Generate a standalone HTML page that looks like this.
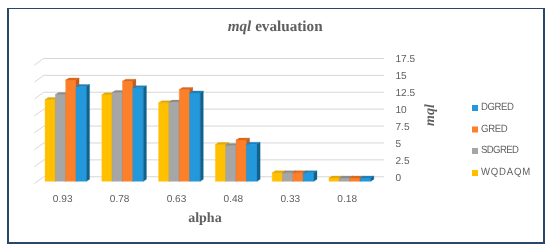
<!DOCTYPE html>
<html><head><meta charset="utf-8"><title>mql evaluation</title>
<style>
html,body{margin:0;padding:0;background:#fff;}
body{width:550px;height:251px;position:relative;overflow:hidden;font-family:"Liberation Sans",sans-serif;}
.frame{position:absolute;left:7px;top:8px;width:534px;height:232.5px;border-style:solid;border-color:#294869;border-width:1.5px 2px 2px 2px;}
.t{text-rendering:geometricPrecision;position:absolute;white-space:nowrap;color:#606060;line-height:1;}
.ax{font-size:10.1px;}
.ser{font-family:"Liberation Serif",serif;font-weight:bold;color:#606060;}
.lg{font-size:9.6px;transform:scale(1,1.09);transform-origin:0 85%;}
.mk{position:absolute;width:6px;height:6px;}
</style></head><body>
<div class="frame"></div>
<svg width="550" height="251" viewBox="0 0 550 251" style="position:absolute;left:0;top:0">
<polyline points="34.4,65.15 43.8,58.45 384,58.45" fill="none" stroke="#D3D3D3" stroke-width="0.9"/>
<polyline points="34.4,82.05 43.8,75.35 384,75.35" fill="none" stroke="#D3D3D3" stroke-width="0.9"/>
<polyline points="34.4,98.95 43.8,92.25 384,92.25" fill="none" stroke="#D3D3D3" stroke-width="0.9"/>
<polyline points="34.4,115.85 43.8,109.15 384,109.15" fill="none" stroke="#D3D3D3" stroke-width="0.9"/>
<polyline points="34.4,132.75 43.8,126.05 384,126.05" fill="none" stroke="#D3D3D3" stroke-width="0.9"/>
<polyline points="34.4,149.65 43.8,142.95 384,142.95" fill="none" stroke="#D3D3D3" stroke-width="0.9"/>
<polyline points="34.4,166.55 43.8,159.85 384,159.85" fill="none" stroke="#D3D3D3" stroke-width="0.9"/>
<polyline points="34.4,183.45 43.8,176.75 384,176.75" fill="none" stroke="#D3D3D3" stroke-width="0.9"/>
<polygon points="45.10,99.50 55.40,99.50 55.40,181.3 45.10,181.3" fill="#FFC000" stroke="#FFC000" stroke-width="0.4"/>
<polygon points="45.10,99.50 48.20,97.50 58.50,97.50 55.40,99.50" fill="#E3A800" stroke="#E3A800" stroke-width="0.3"/>
<polygon points="55.40,99.50 58.50,97.50 58.50,179.30 55.40,181.3" fill="#C89400" stroke="#C89400" stroke-width="0.3"/>
<polygon points="55.40,94.50 65.70,94.50 65.70,181.3 55.40,181.3" fill="#A6A6A6" stroke="#A6A6A6" stroke-width="0.4"/>
<polygon points="55.40,94.50 58.50,92.50 68.80,92.50 65.70,94.50" fill="#8C8C8C" stroke="#8C8C8C" stroke-width="0.3"/>
<polygon points="65.70,94.50 68.80,92.50 68.80,179.30 65.70,181.3" fill="#7A7A7A" stroke="#7A7A7A" stroke-width="0.3"/>
<polygon points="65.70,80.00 76.00,80.00 76.00,181.3 65.70,181.3" fill="#FC7F2A" stroke="#FC7F2A" stroke-width="0.4"/>
<polygon points="65.70,80.00 68.80,78.00 79.10,78.00 76.00,80.00" fill="#DE661B" stroke="#DE661B" stroke-width="0.3"/>
<polygon points="76.00,80.00 79.10,78.00 79.10,179.30 76.00,181.3" fill="#C65A18" stroke="#C65A18" stroke-width="0.3"/>
<polygon points="76.00,86.50 86.50,86.50 86.50,181.3 76.00,181.3" fill="#2398DB" stroke="#2398DB" stroke-width="0.4"/>
<polygon points="76.00,86.50 79.10,84.50 89.60,84.50 86.50,86.50" fill="#1C80BB" stroke="#1C80BB" stroke-width="0.3"/>
<polygon points="86.50,86.50 89.60,84.50 89.60,179.30 86.50,181.3" fill="#0F618F" stroke="#0F618F" stroke-width="0.3"/>
<polygon points="101.87,94.80 112.19,94.80 112.19,181.3 101.87,181.3" fill="#FFC000" stroke="#FFC000" stroke-width="0.4"/>
<polygon points="101.87,94.80 104.97,92.80 115.29,92.80 112.19,94.80" fill="#E3A800" stroke="#E3A800" stroke-width="0.3"/>
<polygon points="112.19,94.80 115.29,92.80 115.29,179.30 112.19,181.3" fill="#C89400" stroke="#C89400" stroke-width="0.3"/>
<polygon points="112.19,92.40 122.49,92.40 122.49,181.3 112.19,181.3" fill="#A6A6A6" stroke="#A6A6A6" stroke-width="0.4"/>
<polygon points="112.19,92.40 115.29,90.40 125.59,90.40 122.49,92.40" fill="#8C8C8C" stroke="#8C8C8C" stroke-width="0.3"/>
<polygon points="122.49,92.40 125.59,90.40 125.59,179.30 122.49,181.3" fill="#7A7A7A" stroke="#7A7A7A" stroke-width="0.3"/>
<polygon points="122.49,81.20 132.81,81.20 132.81,181.3 122.49,181.3" fill="#FC7F2A" stroke="#FC7F2A" stroke-width="0.4"/>
<polygon points="122.49,81.20 125.59,79.20 135.91,79.20 132.81,81.20" fill="#DE661B" stroke="#DE661B" stroke-width="0.3"/>
<polygon points="132.81,81.20 135.91,79.20 135.91,179.30 132.81,181.3" fill="#C65A18" stroke="#C65A18" stroke-width="0.3"/>
<polygon points="132.81,87.80 143.35,87.80 143.35,181.3 132.81,181.3" fill="#2398DB" stroke="#2398DB" stroke-width="0.4"/>
<polygon points="132.81,87.80 135.91,85.80 146.45,85.80 143.35,87.80" fill="#1C80BB" stroke="#1C80BB" stroke-width="0.3"/>
<polygon points="143.35,87.80 146.45,85.80 146.45,179.30 143.35,181.3" fill="#0F618F" stroke="#0F618F" stroke-width="0.3"/>
<polygon points="158.64,102.80 168.98,102.80 168.98,181.3 158.64,181.3" fill="#FFC000" stroke="#FFC000" stroke-width="0.4"/>
<polygon points="158.64,102.80 161.74,100.80 172.08,100.80 168.98,102.80" fill="#E3A800" stroke="#E3A800" stroke-width="0.3"/>
<polygon points="168.98,102.80 172.08,100.80 172.08,179.30 168.98,181.3" fill="#C89400" stroke="#C89400" stroke-width="0.3"/>
<polygon points="168.98,102.10 179.28,102.10 179.28,181.3 168.98,181.3" fill="#A6A6A6" stroke="#A6A6A6" stroke-width="0.4"/>
<polygon points="168.98,102.10 172.08,100.10 182.38,100.10 179.28,102.10" fill="#8C8C8C" stroke="#8C8C8C" stroke-width="0.3"/>
<polygon points="179.28,102.10 182.38,100.10 182.38,179.30 179.28,181.3" fill="#7A7A7A" stroke="#7A7A7A" stroke-width="0.3"/>
<polygon points="179.28,89.50 189.62,89.50 189.62,181.3 179.28,181.3" fill="#FC7F2A" stroke="#FC7F2A" stroke-width="0.4"/>
<polygon points="179.28,89.50 182.38,87.50 192.72,87.50 189.62,89.50" fill="#DE661B" stroke="#DE661B" stroke-width="0.3"/>
<polygon points="189.62,89.50 192.72,87.50 192.72,179.30 189.62,181.3" fill="#C65A18" stroke="#C65A18" stroke-width="0.3"/>
<polygon points="189.62,93.00 200.20,93.00 200.20,181.3 189.62,181.3" fill="#2398DB" stroke="#2398DB" stroke-width="0.4"/>
<polygon points="189.62,93.00 192.72,91.00 203.30,91.00 200.20,93.00" fill="#1C80BB" stroke="#1C80BB" stroke-width="0.3"/>
<polygon points="200.20,93.00 203.30,91.00 203.30,179.30 200.20,181.3" fill="#0F618F" stroke="#0F618F" stroke-width="0.3"/>
<polygon points="215.41,144.50 225.77,144.50 225.77,181.3 215.41,181.3" fill="#FFC000" stroke="#FFC000" stroke-width="0.4"/>
<polygon points="215.41,144.50 218.51,142.50 228.87,142.50 225.77,144.50" fill="#E3A800" stroke="#E3A800" stroke-width="0.3"/>
<polygon points="225.77,144.50 228.87,142.50 228.87,179.30 225.77,181.3" fill="#C89400" stroke="#C89400" stroke-width="0.3"/>
<polygon points="225.77,145.50 236.07,145.50 236.07,181.3 225.77,181.3" fill="#A6A6A6" stroke="#A6A6A6" stroke-width="0.4"/>
<polygon points="225.77,145.50 228.87,143.50 239.17,143.50 236.07,145.50" fill="#8C8C8C" stroke="#8C8C8C" stroke-width="0.3"/>
<polygon points="236.07,145.50 239.17,143.50 239.17,179.30 236.07,181.3" fill="#7A7A7A" stroke="#7A7A7A" stroke-width="0.3"/>
<polygon points="236.07,140.00 246.43,140.00 246.43,181.3 236.07,181.3" fill="#FC7F2A" stroke="#FC7F2A" stroke-width="0.4"/>
<polygon points="236.07,140.00 239.17,138.00 249.53,138.00 246.43,140.00" fill="#DE661B" stroke="#DE661B" stroke-width="0.3"/>
<polygon points="246.43,140.00 249.53,138.00 249.53,179.30 246.43,181.3" fill="#C65A18" stroke="#C65A18" stroke-width="0.3"/>
<polygon points="246.43,144.20 257.05,144.20 257.05,181.3 246.43,181.3" fill="#2398DB" stroke="#2398DB" stroke-width="0.4"/>
<polygon points="246.43,144.20 249.53,142.20 260.15,142.20 257.05,144.20" fill="#1C80BB" stroke="#1C80BB" stroke-width="0.3"/>
<polygon points="257.05,144.20 260.15,142.20 260.15,179.30 257.05,181.3" fill="#0F618F" stroke="#0F618F" stroke-width="0.3"/>
<polygon points="272.18,172.80 282.56,172.80 282.56,181.3 272.18,181.3" fill="#FFC000" stroke="#FFC000" stroke-width="0.4"/>
<polygon points="272.18,172.80 275.28,170.80 285.66,170.80 282.56,172.80" fill="#E3A800" stroke="#E3A800" stroke-width="0.3"/>
<polygon points="282.56,172.80 285.66,170.80 285.66,179.30 282.56,181.3" fill="#C89400" stroke="#C89400" stroke-width="0.3"/>
<polygon points="282.56,172.80 292.86,172.80 292.86,181.3 282.56,181.3" fill="#A6A6A6" stroke="#A6A6A6" stroke-width="0.4"/>
<polygon points="282.56,172.80 285.66,170.80 295.96,170.80 292.86,172.80" fill="#8C8C8C" stroke="#8C8C8C" stroke-width="0.3"/>
<polygon points="292.86,172.80 295.96,170.80 295.96,179.30 292.86,181.3" fill="#7A7A7A" stroke="#7A7A7A" stroke-width="0.3"/>
<polygon points="292.86,172.80 303.24,172.80 303.24,181.3 292.86,181.3" fill="#FC7F2A" stroke="#FC7F2A" stroke-width="0.4"/>
<polygon points="292.86,172.80 295.96,170.80 306.34,170.80 303.24,172.80" fill="#DE661B" stroke="#DE661B" stroke-width="0.3"/>
<polygon points="303.24,172.80 306.34,170.80 306.34,179.30 303.24,181.3" fill="#C65A18" stroke="#C65A18" stroke-width="0.3"/>
<polygon points="303.24,172.80 313.90,172.80 313.90,181.3 303.24,181.3" fill="#2398DB" stroke="#2398DB" stroke-width="0.4"/>
<polygon points="303.24,172.80 306.34,170.80 317.00,170.80 313.90,172.80" fill="#1C80BB" stroke="#1C80BB" stroke-width="0.3"/>
<polygon points="313.90,172.80 317.00,170.80 317.00,179.30 313.90,181.3" fill="#0F618F" stroke="#0F618F" stroke-width="0.3"/>
<polygon points="328.95,178.00 339.35,178.00 339.35,181.3 328.95,181.3" fill="#FFC000" stroke="#FFC000" stroke-width="0.4"/>
<polygon points="328.95,178.00 332.05,176.00 342.45,176.00 339.35,178.00" fill="#E3A800" stroke="#E3A800" stroke-width="0.3"/>
<polygon points="339.35,178.00 342.45,176.00 342.45,179.30 339.35,181.3" fill="#C89400" stroke="#C89400" stroke-width="0.3"/>
<polygon points="339.35,178.00 349.65,178.00 349.65,181.3 339.35,181.3" fill="#A6A6A6" stroke="#A6A6A6" stroke-width="0.4"/>
<polygon points="339.35,178.00 342.45,176.00 352.75,176.00 349.65,178.00" fill="#8C8C8C" stroke="#8C8C8C" stroke-width="0.3"/>
<polygon points="349.65,178.00 352.75,176.00 352.75,179.30 349.65,181.3" fill="#7A7A7A" stroke="#7A7A7A" stroke-width="0.3"/>
<polygon points="349.65,178.00 360.05,178.00 360.05,181.3 349.65,181.3" fill="#FC7F2A" stroke="#FC7F2A" stroke-width="0.4"/>
<polygon points="349.65,178.00 352.75,176.00 363.15,176.00 360.05,178.00" fill="#DE661B" stroke="#DE661B" stroke-width="0.3"/>
<polygon points="360.05,178.00 363.15,176.00 363.15,179.30 360.05,181.3" fill="#C65A18" stroke="#C65A18" stroke-width="0.3"/>
<polygon points="360.05,178.00 370.75,178.00 370.75,181.3 360.05,181.3" fill="#2398DB" stroke="#2398DB" stroke-width="0.4"/>
<polygon points="360.05,178.00 363.15,176.00 373.85,176.00 370.75,178.00" fill="#1C80BB" stroke="#1C80BB" stroke-width="0.3"/>
<polygon points="370.75,178.00 373.85,176.00 373.85,179.30 370.75,181.3" fill="#0F618F" stroke="#0F618F" stroke-width="0.3"/>
</svg>
<div class="t ser" id="title" style="left:227.7px;top:18.5px;font-size:15.2px;"><i>mql</i> evaluation</div>
<div class="t ax yl" style="left:395.5px;top:55.30px;">17.5</div>
<div class="t ax yl" style="left:395.5px;top:72.25px;">15</div>
<div class="t ax yl" style="left:395.5px;top:89.20px;">12.5</div>
<div class="t ax yl" style="left:395.5px;top:106.15px;">10</div>
<div class="t ax yl" style="left:395.5px;top:123.10px;">7.5</div>
<div class="t ax yl" style="left:395.5px;top:140.05px;">5</div>
<div class="t ax yl" style="left:395.5px;top:157.00px;">2.5</div>
<div class="t ax yl" style="left:395.5px;top:173.95px;">0</div>
<div class="t ax xl" style="left:42.70px;width:40px;text-align:center;top:195.0px;">0.93</div>
<div class="t ax xl" style="left:99.60px;width:40px;text-align:center;top:195.0px;">0.78</div>
<div class="t ax xl" style="left:156.50px;width:40px;text-align:center;top:195.0px;">0.63</div>
<div class="t ax xl" style="left:213.40px;width:40px;text-align:center;top:195.0px;">0.48</div>
<div class="t ax xl" style="left:270.30px;width:40px;text-align:center;top:195.0px;">0.33</div>
<div class="t ax xl" style="left:327.20px;width:40px;text-align:center;top:195.0px;">0.18</div>
<div class="t ser" id="alpha" style="left:188.2px;top:212px;font-size:14px;">alpha</div>
<div class="t ser" id="mql" style="left:430.5px;top:115px;font-size:14px;font-style:italic;transform:translate(-50%,-50%) rotate(-90deg);">mql</div>
<svg class="mk" style="left:471px;top:104px;width:8px;height:8px;" viewBox="0 0 8 8"><rect x="1" y="1" width="6" height="6" fill="#2398DB"/></svg><div class="t lg" style="left:481px;top:103.1px;letter-spacing:-0.45px;">DGRED</div>
<svg class="mk" style="left:471px;top:125px;width:8px;height:8px;" viewBox="0 0 8 8"><rect x="1" y="1.5" width="6" height="6" fill="#FC7F2A"/></svg><div class="t lg" style="left:481px;top:124.6px;letter-spacing:-0.32px;">GRED</div>
<svg class="mk" style="left:471px;top:147px;width:8px;height:8px;" viewBox="0 0 8 8"><rect x="1" y="1" width="6" height="6" fill="#A6A6A6"/></svg><div class="t lg" style="left:481px;top:146.1px;letter-spacing:-0.62px;">SDGRED</div>
<svg class="mk" style="left:471px;top:169px;width:8px;height:8px;" viewBox="0 0 8 8"><rect x="1" y="1" width="6" height="6" fill="#FFC000"/></svg><div class="t lg" style="left:481px;top:168.1px;letter-spacing:0.8px;">WQDAQM</div>
</body></html>
